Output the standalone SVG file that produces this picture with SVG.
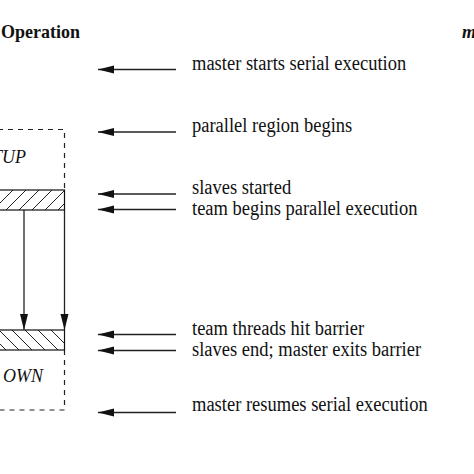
<svg xmlns="http://www.w3.org/2000/svg" width="474" height="474" viewBox="0 0 474 474">
<style>
  .lbl { font-family: "Liberation Serif", "Times New Roman", serif; font-size: 18.5px; fill: #111; }
  .ital { font-family: "Liberation Serif", "Times New Roman", serif; font-style: italic; font-size: 18px; fill: #111; }
  .hdr { font-family: "Liberation Serif", "Times New Roman", serif; font-weight: bold; font-size: 18px; fill: #111; }
  .conn { stroke: #222; stroke-width: 1.3; fill: none; }
  .dash { stroke: #222; stroke-width: 1.2; fill: none; stroke-dasharray: 5 5; }
  .bar { stroke: #111; stroke-width: 1.2; fill: none; }
  .hatch { stroke: #222; stroke-width: 1; }
</style>
<defs>
  <marker id="ah" markerUnits="userSpaceOnUse" markerWidth="18" markerHeight="10" refX="16" refY="4" orient="auto">
    <path d="M0,0 L16,4 L0,8 Z" fill="#111"/>
  </marker>
  <clipPath id="clipTop"><rect x="-2" y="190" width="66" height="20"/></clipPath>
  <clipPath id="clipBot"><rect x="-2" y="330" width="66" height="20"/></clipPath>
</defs>

<g id="header">
  <text class="hdr" transform="translate(1,38) scale(1,1.08)">Operation</text>
  <text class="ital" x="462" y="38" font-weight="bold">m</text>
</g>

<g id="region">
  <path class="dash" d="M-2,129.5 H64.5 V190"/>
  <path class="dash" d="M64.5,350 V410 H-2"/>
  <text class="ital" transform="translate(26,163) scale(1,1.08)" text-anchor="end">TUP</text>
  <text class="ital" transform="translate(3,382) scale(1,1.08)">OWN</text>
</g>

<g id="startBar">
  <g clip-path="url(#clipTop)" class="hatch">
    <line x1="-20" y1="210" x2="0" y2="190"/>
    <line x1="-7" y1="210" x2="13" y2="190"/>
    <line x1="6" y1="210" x2="26" y2="190"/>
    <line x1="19" y1="210" x2="39" y2="190"/>
    <line x1="32" y1="210" x2="52" y2="190"/>
    <line x1="45" y1="210" x2="65" y2="190"/>
    <line x1="58" y1="210" x2="78" y2="190"/>
  </g>
  <rect class="bar" x="-2" y="190" width="66.5" height="20"/>
</g>

<g id="endBar">
  <g clip-path="url(#clipBot)" class="hatch">
    <line x1="-14" y1="330" x2="6" y2="350"/>
    <line x1="-1" y1="330" x2="19" y2="350"/>
    <line x1="12" y1="330" x2="32" y2="350"/>
    <line x1="25" y1="330" x2="45" y2="350"/>
    <line x1="38" y1="330" x2="58" y2="350"/>
    <line x1="51" y1="330" x2="71" y2="350"/>
  </g>
  <rect class="bar" x="-2" y="330" width="66.5" height="20"/>
</g>

<g id="connectors">
  <line class="conn" x1="24" y1="210" x2="24" y2="330" marker-end="url(#ah)"/>
  <line class="conn" x1="64.5" y1="210" x2="64.5" y2="330" marker-end="url(#ah)"/>
  <line class="conn" x1="176" y1="69.5" x2="98" y2="69.5" marker-end="url(#ah)"/>
  <line class="conn" x1="176" y1="132" x2="98" y2="132" marker-end="url(#ah)"/>
  <line class="conn" x1="176" y1="194" x2="98" y2="194" marker-end="url(#ah)"/>
  <line class="conn" x1="176" y1="209.5" x2="98" y2="209.5" marker-end="url(#ah)"/>
  <line class="conn" x1="176" y1="334.5" x2="98" y2="334.5" marker-end="url(#ah)"/>
  <line class="conn" x1="176" y1="350.5" x2="98" y2="350.5" marker-end="url(#ah)"/>
  <line class="conn" x1="176" y1="412.5" x2="98" y2="412.5" marker-end="url(#ah)"/>
</g>

<g id="labels">
  <text class="lbl" transform="translate(192,70) scale(1,1.08)">master starts serial execution</text>
  <text class="lbl" transform="translate(192,132) scale(1,1.08)">parallel region begins</text>
  <text class="lbl" transform="translate(192,194) scale(1,1.08)">slaves started</text>
  <text class="lbl" transform="translate(192,215) scale(1,1.08)">team begins parallel execution</text>
  <text class="lbl" transform="translate(192,335) scale(1,1.08)">team threads hit barrier</text>
  <text class="lbl" transform="translate(192,356) scale(1,1.08)">slaves end; master exits barrier</text>
  <text class="lbl" transform="translate(192,411) scale(1,1.08)">master resumes serial execution</text>
</g>
</svg>
